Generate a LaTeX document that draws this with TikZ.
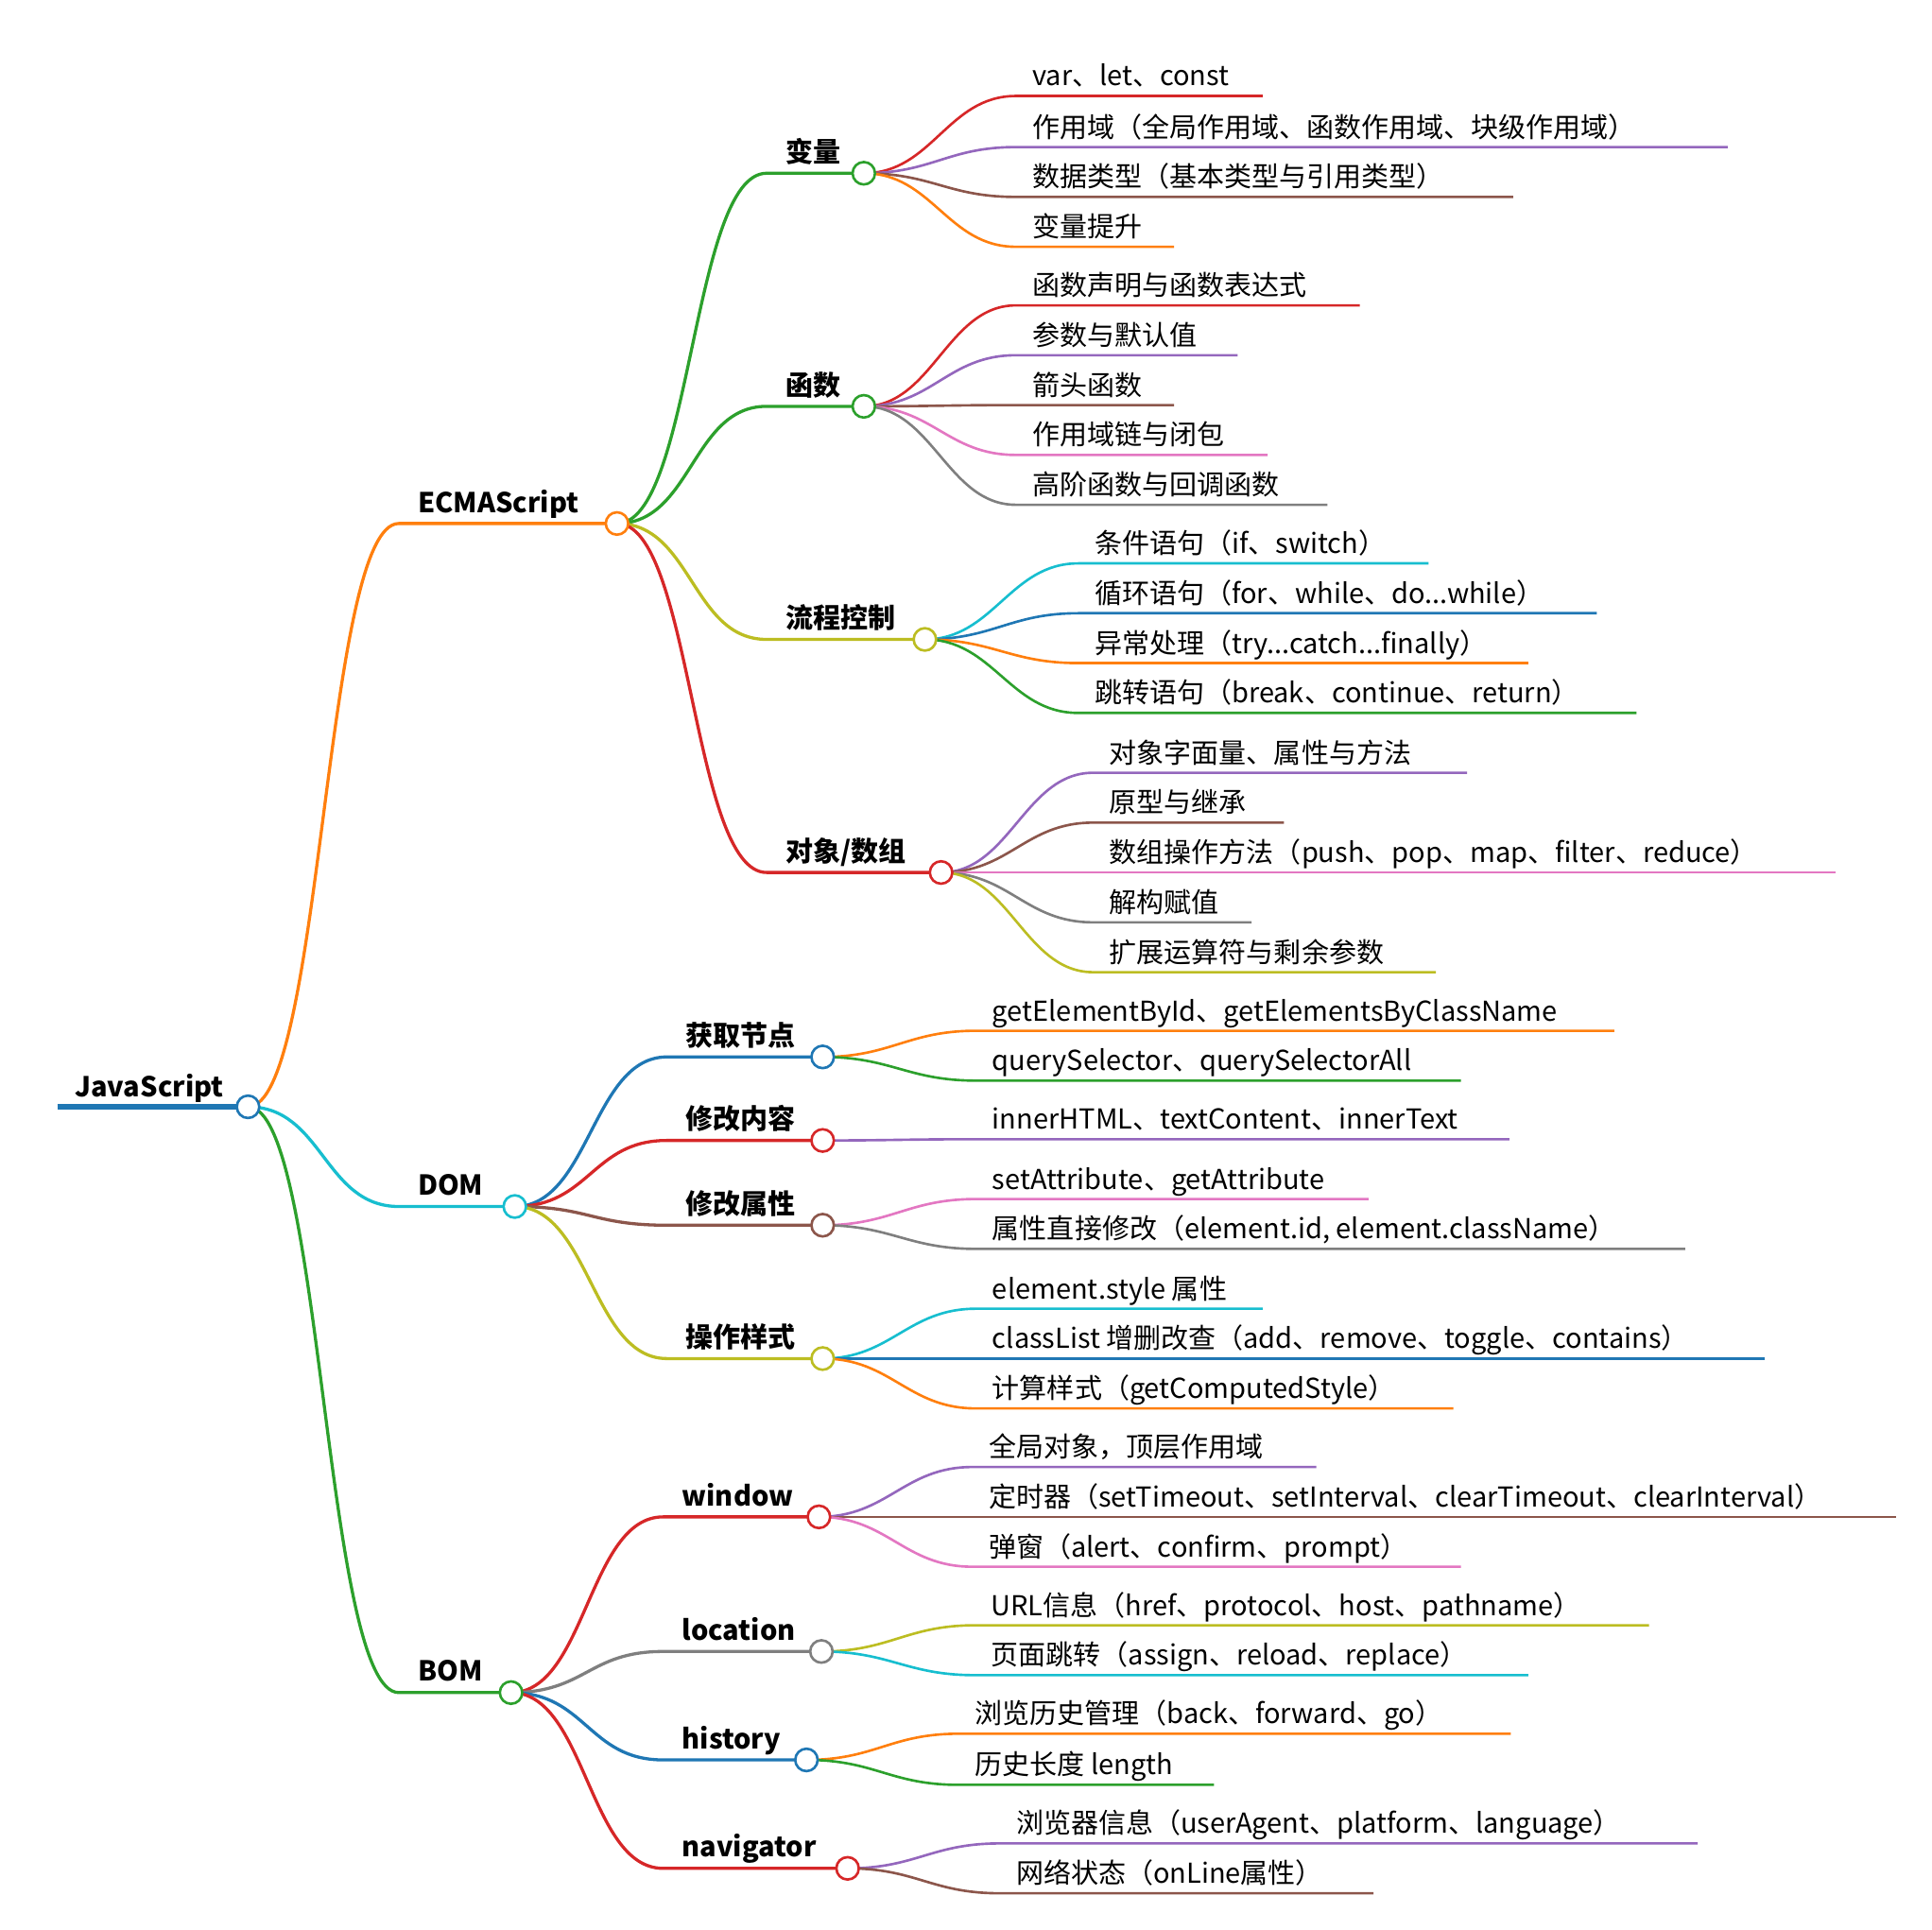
\documentclass[tikz,border=0pt]{standalone}
\usepackage{fontspec}
\setmainfont{Noto Sans CJK SC}
\usetikzlibrary{calc}
\pgfdeclarelayer{fg}
\pgfsetlayers{main,fg}
\definecolor{cr}{HTML}{D62728}\definecolor{cp}{HTML}{9467BD}\definecolor{cb}{HTML}{8C564B}
\definecolor{co}{HTML}{FF7F0E}\definecolor{cg}{HTML}{2CA02C}\definecolor{ck}{HTML}{E377C2}
\definecolor{cy}{HTML}{7F7F7F}\definecolor{cl}{HTML}{BCBD22}\definecolor{cc}{HTML}{17BECF}
\definecolor{cu}{HTML}{1F77B4}
\tikzset{lbl/.style={inner sep=0pt,font=\fontsize{22}{24}\selectfont},
 blbl/.style={inner sep=0pt,font=\fontsize{22}{24}\selectfont\bfseries},
 dot/.style={circle,draw,fill=white,line width=2pt,minimum size=18pt,inner sep=0pt}}
% leaf: parent, name, y, xstart, xend, color, text
\newcommand\lf[7]{%
 \coordinate (#2s) at (#4,-#3); \coordinate (#2e) at (#5,-#3);
 \draw[#6,line width=2pt] (#1) .. controls ($(#1)+(55,0)$) and ($(#2s)-(55,0)$) .. (#2s) -- (#2e);
 \node[lbl,anchor=base west] (#2) at ($(#2s)+(13,8)$) {#7};}
% branch: parent, name, y, xstart, xend, color, text
\newcommand\bn[7]{%
 \coordinate (#2s) at (#4,-#3); \coordinate (#2) at (#5,-#3);
 \draw[#6,line width=2.5pt] (#1) .. controls ($(#1)+(60,0)$) and ($(#2s)-(60,0)$) .. (#2s) -- (#2);
 \node[blbl,anchor=base west] (#2t) at ($(#2s)+(15,9)$) {#7};
 \begin{pgfonlayer}{fg}\node[dot,draw=#6] at (#2) {};\end{pgfonlayer}}
\begin{document}
\begin{tikzpicture}[x=1pt,y=1pt]
\useasboundingbox (0,0) rectangle (1550,-1548);
\coordinate (root) at (199,-888);
\draw[cu,line width=4pt] (46,-888) -- (root);
\node[blbl,anchor=base west] (roott) at (60,-880) {JavaScript};
\begin{pgfonlayer}{fg}\node[dot,draw=cu] at (root) {};\end{pgfonlayer}
% ECMAScript
\bn{root}{ecma}{420}{320}{495}{co}{ECMAScript}
\bn{ecma}{var}{139}{615}{693}{cg}{变量}
\lf{var}{v1}{77}{815}{1013}{cr}{var、let、const}
\lf{var}{v2}{118}{815}{1386}{cp}{作用域（全局作用域、函数作用域、块级作用域）}
\lf{var}{v3}{158}{815}{1214}{cb}{数据类型（基本类型与引用类型）}
\lf{var}{v4}{198}{815}{942}{co}{变量提升}
\bn{ecma}{fn}{326}{615}{693}{cg}{函数}
\lf{fn}{f1}{245}{815}{1091}{cr}{函数声明与函数表达式}
\lf{fn}{f2}{285}{815}{993}{cp}{参数与默认值}
\lf{fn}{f3}{325}{815}{942}{cb}{箭头函数}
\lf{fn}{f4}{365}{815}{1017}{ck}{作用域链与闭包}
\lf{fn}{f5}{405}{815}{1065}{cy}{高阶函数与回调函数}
\bn{ecma}{flow}{513}{615}{742}{cl}{流程控制}
\lf{flow}{l1}{452}{865}{1146}{cc}{条件语句（if、switch）}
\lf{flow}{l2}{492}{865}{1281}{cu}{循环语句（for、while、do...while）}
\lf{flow}{l3}{532}{865}{1226}{co}{异常处理（try...catch...finally）}
\lf{flow}{l4}{572}{865}{1313}{cg}{跳转语句（break、continue、return）}
\bn{ecma}{obj}{700}{615}{755}{cr}{对象/数组}
\lf{obj}{o1}{620}{877}{1177}{cp}{对象字面量、属性与方法}
\lf{obj}{o2}{660}{877}{1030}{cb}{原型与继承}
\lf{obj}{o3}{700}{877}{1473}{ck}{数组操作方法（push、pop、map、filter、reduce）}
\lf{obj}{o4}{740}{877}{1004}{cy}{解构赋值}
\lf{obj}{o5}{780}{877}{1152}{cl}{扩展运算符与剩余参数}
% DOM
\bn{root}{dom}{968}{320}{413}{cc}{DOM}
\bn{dom}{get}{848}{535}{660}{cu}{获取节点}
\lf{get}{g1}{827}{783}{1295}{co}{getElementById、getElementsByClassName}
\lf{get}{g2}{867}{783}{1172}{cg}{querySelector、querySelectorAll}
\bn{dom}{cont}{915}{535}{660}{cr}{修改内容}
\lf{cont}{c1}{914}{783}{1211}{cp}{innerHTML、textContent、innerText}
\bn{dom}{attr}{983}{535}{660}{cb}{修改属性}
\lf{attr}{a1}{962}{783}{1098}{ck}{setAttribute、getAttribute}
\lf{attr}{a2}{1002}{783}{1352}{cy}{属性直接修改（element.id, element.className）}
\bn{dom}{sty}{1090}{535}{660}{cl}{操作样式}
\lf{sty}{s1}{1050}{783}{1013}{cc}{element.style 属性}
\lf{sty}{s2}{1090}{783}{1416}{cu}{classList 增删改查（add、remove、toggle、contains）}
\lf{sty}{s3}{1130}{783}{1166}{co}{计算样式（getComputedStyle）}
% BOM
\bn{root}{bom}{1358}{320}{410}{cg}{BOM}
\bn{bom}{win}{1217}{532}{657}{cr}{window}
\lf{win}{w1}{1177}{780}{1056}{cp}{全局对象，顶层作用域}
\lf{win}{w2}{1217}{780}{1521}{cb}{定时器（setTimeout、setInterval、clearTimeout、clearInterval）}
\lf{win}{w3}{1257}{780}{1172}{ck}{弹窗（alert、confirm、prompt）}
\bn{bom}{loc}{1325}{532}{659}{cy}{location}
\lf{loc}{p1}{1304}{782}{1323}{cl}{URL信息（href、protocol、host、pathname）}
\lf{loc}{p2}{1344}{782}{1226}{cc}{页面跳转（assign、reload、replace）}
\bn{bom}{his}{1412}{532}{647}{cu}{history}
\lf{his}{h1}{1391}{769}{1212}{co}{浏览历史管理（back、forward、go）}
\lf{his}{h2}{1432}{769}{974}{cg}{历史长度 length}
\bn{bom}{nav}{1499}{532}{680}{cr}{navigator}
\lf{nav}{n1}{1479}{802}{1362}{cp}{浏览器信息（userAgent、platform、language）}
\lf{nav}{n2}{1519}{802}{1102}{cb}{网络状态（onLine属性）}
\end{tikzpicture}
\end{document}
